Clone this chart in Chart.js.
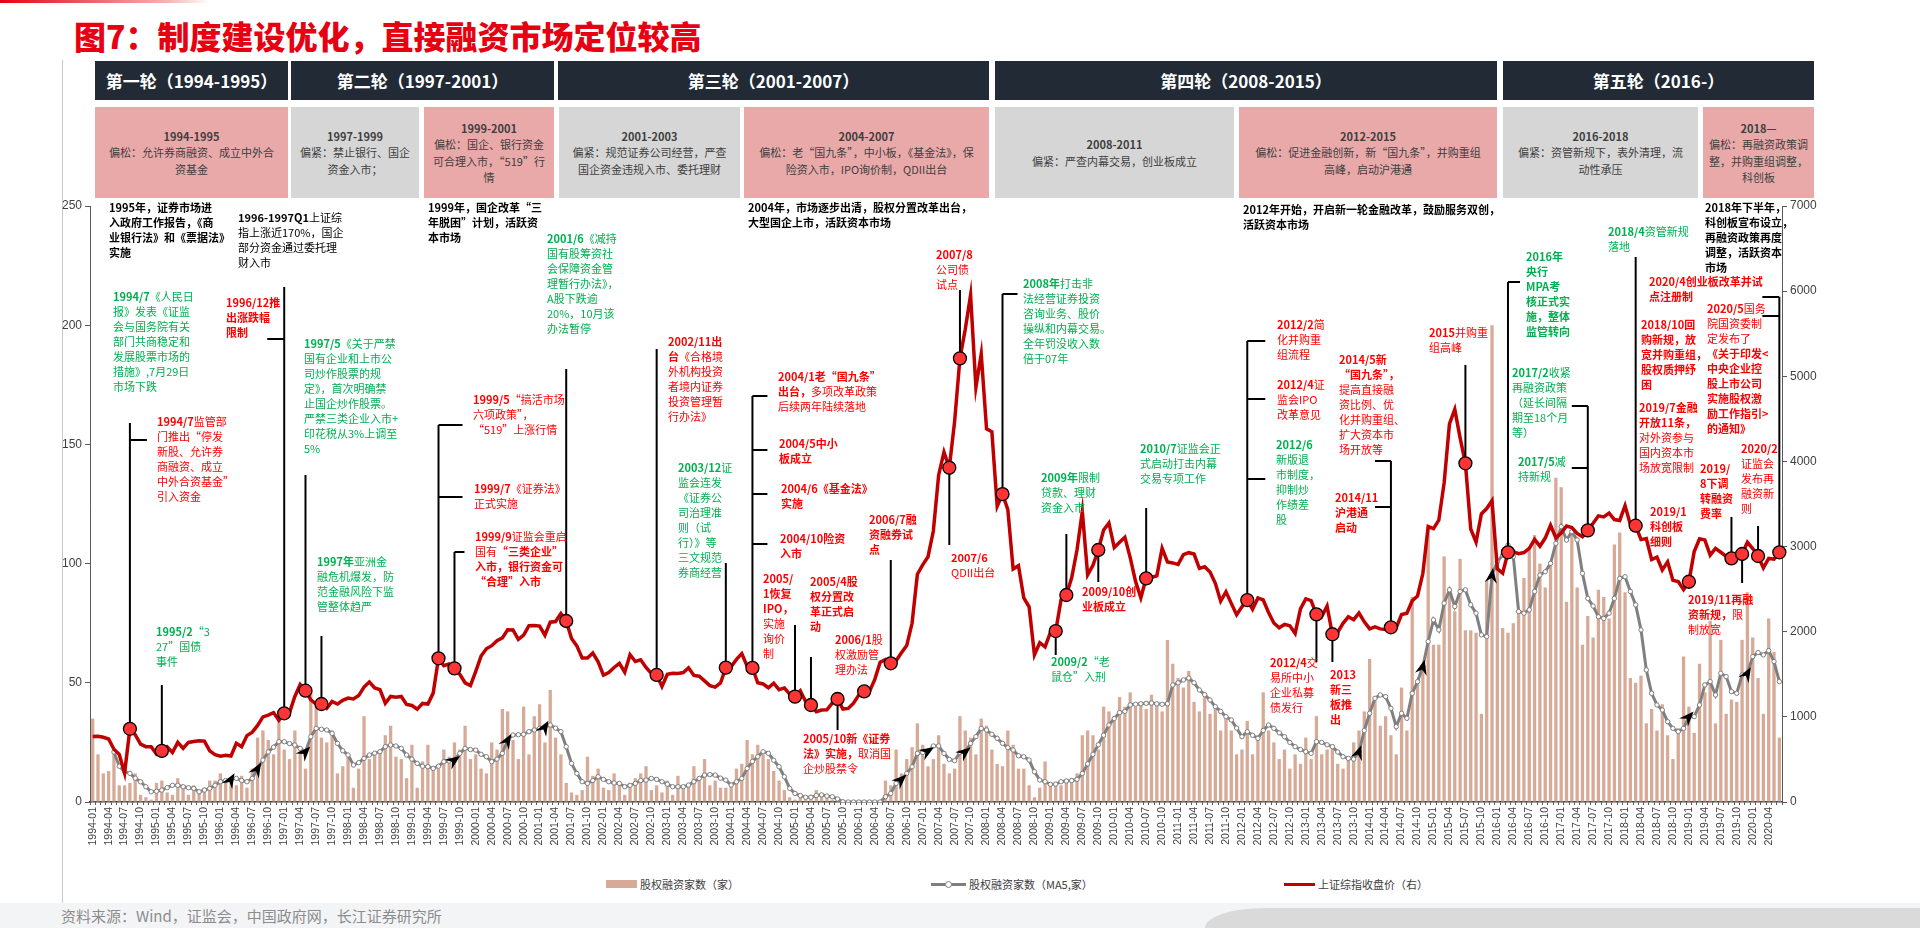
<!DOCTYPE html>
<html><head><meta charset="utf-8">
<script src="https://cdn.jsdelivr.net/npm/chart.js@4.4.1/dist/chart.umd.min.js"></script>
<style>
body{margin:0;width:1920px;height:928px;position:relative;overflow:hidden;background:#fff;font-family:'Noto Sans CJK SC','Noto Sans',sans-serif}
.abs{position:absolute}
.hd{position:absolute;top:61px;height:39px;background:#222a35;color:#fff;font-weight:700;font-size:17px;display:flex;align-items:center;justify-content:center;white-space:nowrap}
.pb{position:absolute;top:107px;height:91px;color:#404040;font-size:11px;line-height:16.5px;display:flex;align-items:center;justify-content:center;text-align:center;white-space:nowrap}
.an{position:absolute;font-size:11px;line-height:15px;white-space:nowrap;z-index:3}
.lg{position:absolute;font-size:11px;color:#404040;white-space:nowrap;top:876px;line-height:16px}
</style></head><body>
<div class="abs" style="left:0;top:0;width:210px;height:3px;background:linear-gradient(90deg,#e60012,#f6b3b3 80%,#fff)"></div>
<div class="abs" style="left:74px;top:14px;font-size:32px;font-weight:900;color:#e60012;white-space:nowrap;line-height:42px">图7：制度建设优化，直接融资市场定位较高</div>
<div class="abs" style="left:62px;top:60px;width:1px;height:843px;background:#c8c8c8"></div>
<div id="boxes"></div>
<canvas id="c" width="1920" height="928" style="position:absolute;left:0;top:0;z-index:2"></canvas>
<div id="anns"></div>
<div class="abs" style="left:606px;top:880px;width:31px;height:8px;background:#d6aa97"></div>
<div class="lg" style="left:640px">股权融资家数（家）</div>
<div class="abs" style="left:931px;top:883px;width:35px;height:3px;background:#7f7f7f"></div>
<div class="abs" style="left:945px;top:881px;width:5px;height:5px;border-radius:50%;background:#fff;border:1px solid #7f7f7f"></div>
<div class="lg" style="left:969px">股权融资家数（MA5,家）</div>
<div class="abs" style="left:1284px;top:883px;width:31px;height:3px;background:#c00000"></div>
<div class="lg" style="left:1318px">上证综指收盘价（右）</div>
<div class="abs" style="left:0;top:903px;width:1920px;height:25px;background:#f3f4f6"></div>
<div class="abs" style="left:1205px;top:908px;width:715px;height:20px;background:#dadada;border-top-left-radius:60px 20px"></div>
<div class="abs" style="left:61px;top:905px;font-size:15px;color:#8c8c8c;white-space:nowrap;line-height:22px">资料来源：Wind，证监会，中国政府网，长江证券研究所</div>
<script>
// ---------------- DATA ----------------
const months = [];
for (let y = 1994; y <= 2020; y++) for (let m = 1; m <= 12; m++) {
  if (y === 2020 && m > 6) break;
  months.push(y + '-' + String(m).padStart(2, '0'));
}
// 股权融资家数（家） monthly
const equityDeals = [
 35,20,12,13,21,7,7,8,12,3,2,1,
 8,9,4,3,10,6,3,7,4,6,9,9,
 12,8,10,7,11,6,14,27,30,26,20,35,
 22,18,30,22,14,46,40,27,25,30,12,15,
 20,6,14,36,18,20,22,28,32,19,18,10,
 24,6,17,24,14,14,22,19,25,22,32,18,
 20,14,12,25,22,39,38,26,18,40,20,36,
 41,25,47,27,20,8,4,3,5,19,11,14,
 6,5,12,8,3,8,10,12,15,5,7,4,
 9,3,11,6,7,15,10,18,7,9,6,6,
 8,14,16,26,20,24,20,18,13,9,5,2,
 1,2,2,3,5,3,2,1,1,0,0,0,
 0,0,0,0,0,9,7,22,12,18,23,33,
 24,15,18,28,16,12,14,36,30,27,20,35,
 32,22,16,15,30,24,14,14,7,2,6,17,
 7,8,7,8,10,12,28,30,28,22,40,38,
 36,44,40,46,40,42,39,45,42,38,68,58,
 52,48,55,42,38,44,37,39,30,36,30,20,
 22,34,20,28,46,30,25,18,22,14,20,16,
 27,18,36,20,22,24,16,14,18,25,30,38,
 60,44,32,36,28,20,48,30,86,50,58,115,
 66,66,103,90,80,102,72,72,71,37,93,200,
 101,73,71,75,80,94,106,112,100,90,100,136,
 132,84,113,90,66,78,69,89,86,77,108,113,
 88,52,50,53,33,39,30,41,28,18,31,61,
 40,29,58,46,76,33,68,37,43,42,68,88,
 69,52,37,77,63,27];
// 股权融资家数（MA5,家）
const equityDealsMA5 = [
 null,null,null,null,21,15,12.7,12,10,8.5,6.4,4.3,
 4.5,5,6,7,7,6.4,6,5.7,4.3,5,5.7,7,
 8.5,9,9.5,9.9,9,8.5,9.9,14,17.6,21,23,25.3,
 25.3,24.5,23.9,22.5,21.1,27.4,30.9,30.5,30.2,28.8,24.6,21.5,
 19.7,15.5,16.5,18.3,19.7,20.5,21.1,23.2,23.9,23.5,22.5,19.7,
 18,16.2,15,14.8,14.1,15,16.9,17.2,17.6,20.4,22.5,22,
 21.8,20,19,16.9,18,20.4,26,28.1,28.2,28.4,29.5,30.2,
 30.9,31.5,32.3,31,29.5,23.2,16.2,12,8.5,7.8,9,10.6,
 9.5,8.5,8,7.8,6.4,7,7.8,9,9.2,9.9,9.5,8.5,
 7.5,6.4,6.4,6.4,7.1,8.5,9.9,11.3,11.5,11.3,10,9.2,
 7.1,8.5,9.9,14.1,17,19,21.1,20.4,17.5,14.8,10.6,5.7,
 3.6,2.7,2,2,2.7,3,2.5,2.2,1.3,0.1,0,0,
 0,0,0,0,0,2.2,3.6,7.8,9.5,12,14.8,20.4,
 20.8,21.4,23.5,23.5,20.4,17.9,17.3,20.8,21.1,24.6,27.4,30.9,
 30.2,28.4,26.7,24.6,22.8,21.8,19.4,19,17.6,12.7,9.2,8.5,
 7.4,7.5,8.5,8.8,9,9.5,12,16,20,24,28,32.3,
 35,37.5,38,40.7,41,41.2,41.4,41.5,41.2,41,41.2,49.1,
 50,51.2,52,50,47,45,42.8,40,38,35.8,34.4,31,
 27.4,29.5,28,26.7,30,32.3,30.9,29,27.4,25,23.2,22,
 21.1,20.4,25.3,25,24,23.2,21,19,18.3,18,21.1,30,
 37.2,43.5,44.9,44.2,39.3,31.6,37.2,35.1,45.6,50.5,56.8,67.3,
 76.4,72.2,83.4,89,82,88.3,89,82.7,79.2,70.1,69.4,95.2,
 100.8,103.6,107.8,102.9,79.9,79.2,80.6,88.3,95.2,96.6,100.1,108.5,
 115.5,109.9,113.4,109.9,95.9,85.4,82.2,77.7,77,79.2,85.4,93.8,
 94.5,88.3,82.7,72.2,55.4,45.6,40.7,38.6,33.7,30.9,29.5,30.9,
 35.8,35.8,40.7,49.1,50.5,44.9,54,52.6,46.3,45.6,53.3,54,
 61,62.7,61.7,63.5,58.9,50.5];
// 上证综指收盘价（右）
const sseClose = [
 770,773,760,740,620,560,340,860,790,680,650,648,
 563,600,648,582,700,630,700,710,720,715,600,555,
 537,550,540,690,650,780,820,900,1000,1020,1050,960,
 1042,1050,1240,1380,1307,1200,1150,1151,1100,1180,1150,1194,
 1220,1210,1250,1350,1410,1340,1320,1160,1240,1230,1240,1146,
 1134,1090,1158,1150,1279,1688,1600,1620,1570,1500,1400,1367,
 1535,1714,1800,1836,1894,1928,2023,2021,1910,1961,2070,2073,
 2066,1959,2112,2120,2214,2126,1920,1834,1690,1690,1750,1646,
 1490,1520,1580,1628,1525,1730,1650,1670,1580,1510,1492,1357,
 1500,1511,1510,1520,1576,1487,1477,1422,1367,1349,1398,1578,
 1590,1675,1742,1595,1575,1400,1386,1342,1396,1320,1340,1267,
 1237,1306,1181,1139,1060,1080,1083,1162,1210,1092,1099,1161,
 1258,1299,1298,1440,1641,1672,1629,1658,1752,1837,2099,2675,
 2786,2881,3183,3841,4109,3926,4471,5211,5552,5954,4871,5262,
 4383,4348,3473,3617,3433,2736,2775,2397,2293,1729,1871,1821,
 1991,2008,2374,2431,2633,2959,3412,2667,2779,2960,3195,3277,
 2989,3051,3110,2871,2592,2398,2627,2639,2656,2979,2820,2808,
 2790,2905,2928,2912,2743,2762,2701,2568,2359,2468,2333,2199,
 2292,2372,2263,2396,2373,2226,2103,2047,2086,2069,1980,2269,
 2385,2366,2204,2178,2301,1970,1994,2098,2175,2141,2220,2116,
 2033,2056,2033,2026,2052,2048,2202,2217,2364,2420,2683,3235,
 3210,3310,3748,4442,4612,4277,3978,3206,3053,3383,3446,3539,
 2738,2688,2933,2938,2917,2930,2979,3085,3005,3100,3250,3104,
 3159,3242,3223,3155,3117,3190,3273,3361,3349,3393,3317,3307,
 3481,3259,3245,3082,3095,2847,2876,2725,2821,2603,2588,2494,
 2587,2941,3091,3078,2899,2979,2933,2886,2862,2929,2913,3050,
 2977,2889,2750,2860,2852,2933];
// policy event markers on the index line
const markerDates = ['1994-08','1995-02','1997-01','1997-05','1997-08','1999-06','1999-09','2001-06','2002-11','2003-12','2004-05','2005-01','2005-04','2005-09','2006-02','2006-07','2007-06','2007-08','2008-04','2009-02','2009-04','2009-10','2010-07','2012-02','2013-03','2013-06','2014-05','2015-07','2016-03','2017-06','2018-03','2019-01','2019-09','2019-11','2020-02','2020-06'];
const markerValues = [860,600,1042,1307,1151,1688,1570,2126,1492,1578,1575,1237,1139,1210,1299,1629,3926,5211,3617,2008,2431,2960,2627,2372,2204,1970,2052,3978,2933,3190,3245,2587,2862,2913,2889,2933];
// arrows on MA5 line
const arrowDates = ['1996-03','1996-08','1997-05','1999-09','2000-07','2001-02','2006-09','2007-02','2007-09','2013-11','2014-11','2015-12','2019-01','2019-12'];
const leftTicks = [0,50,100,150,200,250];
const rightTicks = [0,1000,2000,3000,4000,5000,6000,7000];

// ---------------- LAYOUT ----------------
const rounds = [['第一轮（1994-1995）',95,288],['第二轮（1997-2001）',291,554],['第三轮（2001-2007）',558,989],['第四轮（2008-2015）',995,1497],['第五轮（2016-）',1503,1814]];
const P='#eaa9a9', Gy='#d6d6d6';
const periods = [
 [95,288,P,'<b>1994-1995</b><br>偏松：允许券商融资、成立中外合<br>资基金'],
 [291,419,Gy,'<b>1997-1999</b><br>偏紧：禁止银行、国企<br>资金入市；'],
 [424,554,P,'<b>1999-2001</b><br>偏松：国企、银行资金<br>可合理入市，“519”行<br>情'],
 [559,740,Gy,'<b>2001-2003</b><br>偏紧：规范证券公司经营，严查<br>国企资金违规入市、委托理财'],
 [744,989,P,'<b>2004-2007</b><br>偏松：老“国九条”，中小板，《基金法》，保<br>险资入市，IPO询价制，QDII出台'],
 [995,1234,Gy,'<b>2008-2011</b><br>偏紧：严查内幕交易，创业板成立'],
 [1239,1497,P,'<b>2012-2015</b><br>偏松：促进金融创新，新“国九条”，并购重组<br>高峰，启动沪港通'],
 [1503,1698,Gy,'<b>2016-2018</b><br>偏紧：资管新规下，表外清理，流<br>动性承压'],
 [1703,1814,P,'<b>2018—</b><br>偏松：再融资政策调<br>整，并购重组调整，<br>科创板']
];
let bh='';
rounds.forEach(r=>{bh+=`<div class="hd" style="left:${r[1]}px;width:${r[2]-r[1]}px">${r[0]}</div>`;});
periods.forEach(p=>{bh+=`<div class="pb" style="left:${p[0]}px;width:${p[1]-p[0]}px;background:${p[2]}"><div>${p[3]}</div></div>`;});
document.getElementById('boxes').innerHTML=bh;

const K='#000', G='#00b050', R='#ff0000';
const annotations = [
 [109,203,K,'<b>1995年，证券市场进<br>入政府工作报告，《商<br>业银行法》和《票据法》<br>实施</b>'],
 [238,213,K,'<b>1996-1997Q1</b>上证综<br>指上涨近170%，国企<br>部分资金通过委托理<br>财入市'],
 [428,203,K,'<b>1999年，国企改革“三<br>年脱困”计划，活跃资<br>本市场</b>'],
 [748,203,K,'<b>2004年，市场逐步出清，股权分置改革出台，<br>大型国企上市，活跃资本市场</b>'],
 [1243,205,K,'<b>2012年开始，开启新一轮金融改革，鼓励服务双创，<br>活跃资本市场</b>'],
 [1705,203,K,'<b>2018年下半年，<br>科创板宣布设立，<br>再融资政策再度<br>调整，活跃资本<br>市场</b>'],
 [113,292,G,'<b>1994/7</b>《人民日<br>报》发表《证监<br>会与国务院有关<br>部门共商稳定和<br>发展股票市场的<br>措施》,7月29日<br>市场下跌'],
 [156,627,G,'<b>1995/2</b>“3<br>27”国债<br>事件'],
 [304,339,G,'<b>1997/5</b>《关于严禁<br>国有企业和上市公<br>司炒作股票的规<br>定》，首次明确禁<br>止国企炒作股票。<br>严禁三类企业入市+<br>印花税从3%上调至<br>5%'],
 [317,557,G,'<b>1997年</b>亚洲金<br>融危机爆发，防<br>范金融风险下监<br>管整体趋严'],
 [547,234,G,'<b>2001/6</b>《减持<br>国有股筹资社<br>会保障资金管<br>理暂行办法》，<br>A股下跌逾<br>20%，10月该<br>办法暂停'],
 [678,463,G,'<b>2003/12</b>证<br>监会连发<br>《证券公<br>司治理准<br>则（试<br>行）》等<br>三文规范<br>券商经营'],
 [1023,279,G,'<b>2008年</b>打击非<br>法经营证券投资<br>咨询业务、股价<br>操纵和内幕交易。<br>全年罚没收入数<br>倍于07年'],
 [1041,473,G,'<b>2009年</b>限制<br>贷款、理财<br>资金入市'],
 [1140,444,G,'<b>2010/7</b>证监会正<br>式启动打击内幕<br>交易专项工作'],
 [1051,657,G,'<b>2009/2</b>“老<br>鼠仓”入刑'],
 [1276,440,G,'<b>2012/6</b><br>新版退<br>市制度，<br>抑制炒<br>作绩差<br>股'],
 [1526,252,G,'<b>2016年<br>央行<br>MPA考<br>核正式实<br>施，整体<br>监管转向</b>'],
 [1512,368,G,'<b>2017/2</b>收紧<br>再融资政策<br>（延长间隔<br>期至18个月<br>等）'],
 [1518,457,G,'<b>2017/5</b>减<br>持新规'],
 [1608,227,G,'<b>2018/4</b>资管新规<br>落地'],
 [157,417,R,'<b>1994/7</b>监管部<br>门推出“停发<br>新股、允许券<br>商融资、成立<br>中外合资基金”<br>引入资金'],
 [226,298,R,'<b>1996/12推<br>出涨跌幅<br>限制</b>'],
 [473,395,R,'<b>1999/5</b>“搞活市场<br>六项政策”，<br>“519”上涨行情'],
 [474,484,R,'<b>1999/7</b>《证券法》<br>正式实施'],
 [475,532,R,'<b>1999/9</b>证监会重启<br>国有<b>“三类企业”</b><br><b>入市，银行资金可</b><br><b>“合理”入市</b>'],
 [668,337,R,'<b>2002/11出</b><br><b>台</b>《合格境<br>外机构投资<br>者境内证券<br>投资管理暂<br>行办法》'],
 [778,372,R,'<b>2004/1老“国九条”</b><br><b>出台，</b>多项改革政策<br>后续两年陆续落地'],
 [779,439,R,'<b>2004/5中小<br>板成立</b>'],
 [781,484,R,'<b>2004/6《基金法》<br>实施</b>'],
 [780,534,R,'<b>2004/10险资<br>入市</b>'],
 [763,574,R,'<b>2005/<br>1恢复<br>IPO，</b><br>实施<br>询价<br>制'],
 [810,577,R,'<b>2005/4股<br>权分置改<br>革正式启<br>动</b>'],
 [835,635,R,'<b>2006/1</b>股<br>权激励管<br>理办法'],
 [869,515,R,'<b>2006/7融<br>资融券试<br>点</b>'],
 [803,734,R,'<b>2005/10新《证券<br>法》实施，</b>取消国<br>企炒股禁令'],
 [936,250,R,'<b>2007/8</b><br>公司债<br>试点'],
 [951,553,R,'<b>2007/6</b><br>QDII出台'],
 [1082,587,R,'<b>2009/10创<br>业板成立</b>'],
 [1277,320,R,'<b>2012/2</b>简<br>化并购重<br>组流程'],
 [1277,380,R,'<b>2012/4</b>证<br>监会IPO<br>改革意见'],
 [1339,355,R,'<b>2014/5新<br>“国九条”，</b><br>提高直接融<br>资比例、优<br>化并购重组、<br>扩大资本市<br>场开放等'],
 [1335,493,R,'<b>2014/11<br>沪港通<br>启动</b>'],
 [1270,658,R,'<b>2012/4</b>交<br>易所中小<br>企业私募<br>债发行'],
 [1330,670,R,'<b>2013<br>新三<br>板推<br>出</b>'],
 [1429,328,R,'<b>2015</b>并购重<br>组高峰'],
 [1641,320,R,'<b>2018/10回<br>购新规，放<br>宽并购重组，<br>股权质押纾<br>困</b>'],
 [1639,403,R,'<b>2019/7金融<br>开放11条，</b><br>对外资参与<br>国内资本市<br>场放宽限制'],
 [1650,507,R,'<b>2019/1<br>科创板<br>细则</b>'],
 [1700,464,R,'<b>2019/<br>8下调<br>转融资<br>费率</b>'],
 [1741,444,R,'<b>2020/2</b><br>证监会<br>发布再<br>融资新<br>则'],
 [1649,277,R,'<b>2020/4创业板改革并试<br>点注册制</b>'],
 [1707,304,R,'<b>2020/5</b>国务<br>院国资委制<br>定发布了<br><b>《关于印发&lt;<br>中央企业控<br>股上市公司<br>实施股权激<br>励工作指引&gt;<br>的通知》</b>'],
 [1688,595,R,'<b>2019/11再融<br>资新规，</b>限<br>制放宽']
];
let ah='';
annotations.forEach(a=>{ah+=`<div class="an" style="left:${a[0]}px;top:${a[1]-3}px;color:${a[2]}">${a[3]}</div>`;});
document.getElementById('anns').innerHTML=ah;

// leader lines: endpoint y in px (layout), stubs [y, dx]
const leaders = [
 {d:'1994-08',to:423,stubs:[[440,17]]},{d:'1995-02',to:685},{d:'1997-01',to:287,stubs:[[339,-17]]},
 {d:'1997-05',to:475},{d:'1997-08',to:636},{d:'1999-06',to:425,stubs:[[425,24],[497,24]]},
 {d:'1999-09',to:552,stubs:[[552,10]]},{d:'2001-06',to:369},{d:'2002-11',to:349},{d:'2003-12',to:563},
 {d:'2004-05',to:396,stubs:[[396,15],[450,15],[494,15],[544,15]]},{d:'2005-01',to:625},{d:'2005-04',to:657},
 {d:'2005-09',to:730},{d:'2006-07',to:560},{d:'2007-06',to:545},{d:'2007-08',to:290},
 {d:'2008-04',to:294,stubs:[[294,15]]},{d:'2009-02',to:655},{d:'2009-04',to:534},{d:'2009-10',to:582},
 {d:'2010-07',to:508},{d:'2012-02',to:341,stubs:[[341,18],[399,18],[479,18]]},{d:'2013-03',to:662},
 {d:'2013-06',to:662},{d:'2014-05',to:461,stubs:[[461,-16],[507,-16]]},{d:'2015-07',to:365},
 {d:'2016-03',to:282,stubs:[[282,12]]},{d:'2017-06',to:406,stubs:[[406,-16],[468,-16]]},
 {d:'2018-03',to:257},{d:'2019-09',to:517},{d:'2019-11',to:583},{d:'2020-02',to:526},
 {d:'2020-06',to:297,stubs:[[297,-17],[316,-17]]}
];

const leaderPlugin = {
  id:'leaders',
  afterDatasetDraw(chart,args){
    if(args.index!==2) return;
    const ctx=chart.ctx, xs=chart.scales.x, ys=chart.scales.y1;
    ctx.save(); ctx.strokeStyle='#000'; ctx.lineWidth=2;
    leaders.forEach(l=>{
      const i=months.indexOf(l.d); const v=markerValues[markerDates.indexOf(l.d)];
      const x=xs.getPixelForValue(i), y=ys.getPixelForValue(v);
      ctx.beginPath(); ctx.moveTo(x,y); ctx.lineTo(x,l.to); ctx.stroke();
      (l.stubs||[]).forEach(s=>{ctx.beginPath();ctx.moveTo(x,s[0]);ctx.lineTo(x+s[1],s[0]);ctx.stroke();});
    });
    ctx.restore();
  },
  afterDatasetsDraw(chart){
    const ctx=chart.ctx, meta=chart.getDatasetMeta(1);
    ctx.save(); ctx.fillStyle='#000';
    arrowDates.forEach(d=>{
      const i=months.indexOf(d); const p=meta.data[i], a=meta.data[i-1]||p, b=meta.data[i+1]||p;
      let dx=b.x-a.x, dy=b.y-a.y; const L=Math.hypot(dx,dy)||1; dx/=L; dy/=L;
      if(dy>-0.3){dx=0.5;dy=-0.866;}
      const tx=p.x+dx*7, ty=p.y+dy*7, px=-dy, py=dx;
      ctx.beginPath(); ctx.moveTo(tx,ty);
      ctx.lineTo(tx-dx*15+px*6, ty-dy*15+py*6);
      ctx.lineTo(tx-dx*10, ty-dy*10);
      ctx.lineTo(tx-dx*15-px*6, ty-dy*15-py*6);
      ctx.closePath(); ctx.fill();
    });
    ctx.restore();
  }
};

const tickFont={family:"'Liberation Sans', Arial, sans-serif",size:12};
new Chart(document.getElementById('c'),{
  data:{labels:months,datasets:[
    {type:'bar',label:'股权融资家数（家）',data:equityDeals,yAxisID:'y',backgroundColor:'#d6aa97',barPercentage:0.62,categoryPercentage:1,order:4},
    {type:'line',label:'股权融资家数（MA5,家）',data:equityDealsMA5,yAxisID:'y',borderColor:'#808080',borderWidth:3,pointRadius:2.2,pointBackgroundColor:'#fff',pointBorderColor:'#808080',pointBorderWidth:1,tension:0,order:3},
    {type:'line',label:'上证综指收盘价（右）',data:sseClose,yAxisID:'y1',borderColor:'#c00000',borderWidth:3.5,pointRadius:0,tension:0,order:2},
    {type:'line',label:'events',data:markerDates.map((d,i)=>({x:d,y:markerValues[i]})),yAxisID:'y1',showLine:false,pointRadius:6.5,pointBackgroundColor:'#ff3434',pointBorderColor:'#000',pointBorderWidth:1.3,order:1}
  ]},
  options:{
    responsive:false,animation:false,
    layout:{padding:{left:60,right:98,top:206,bottom:66}},
    plugins:{legend:{display:false},tooltip:{enabled:false}},
    scales:{
      x:{type:'category',offset:true,
        grid:{display:true,drawOnChartArea:false,tickLength:3,color:'#595959'},
        border:{color:'#404040',width:1.5},
        ticks:{autoSkip:false,minRotation:90,maxRotation:90,padding:2,color:'#404040',
          font:{family:"'Liberation Sans', Arial, sans-serif",size:10.5},
          callback:(v,i)=> i%3===0 ? months[i] : ''},
        afterFit:s=>{s.height=60}},
      y:{position:'left',min:0,max:250,
        afterBuildTicks:s=>{s.ticks=leftTicks.map(v=>({value:v}))},
        grid:{drawOnChartArea:false,tickLength:5,color:'#595959'},border:{color:'#595959'},
        ticks:{padding:3,color:'#404040',font:tickFont,callback:v=>String(v)},afterFit:s=>{s.width=30}},
      y1:{position:'right',min:0,max:7000,
        afterBuildTicks:s=>{s.ticks=rightTicks.map(v=>({value:v}))},
        grid:{drawOnChartArea:false,tickLength:5,color:'#595959'},border:{color:'#595959'},
        ticks:{padding:3,color:'#404040',font:tickFont,callback:v=>String(v)},afterFit:s=>{s.width=40}}
    }
  },
  plugins:[leaderPlugin]
});
</script>
</body></html>
